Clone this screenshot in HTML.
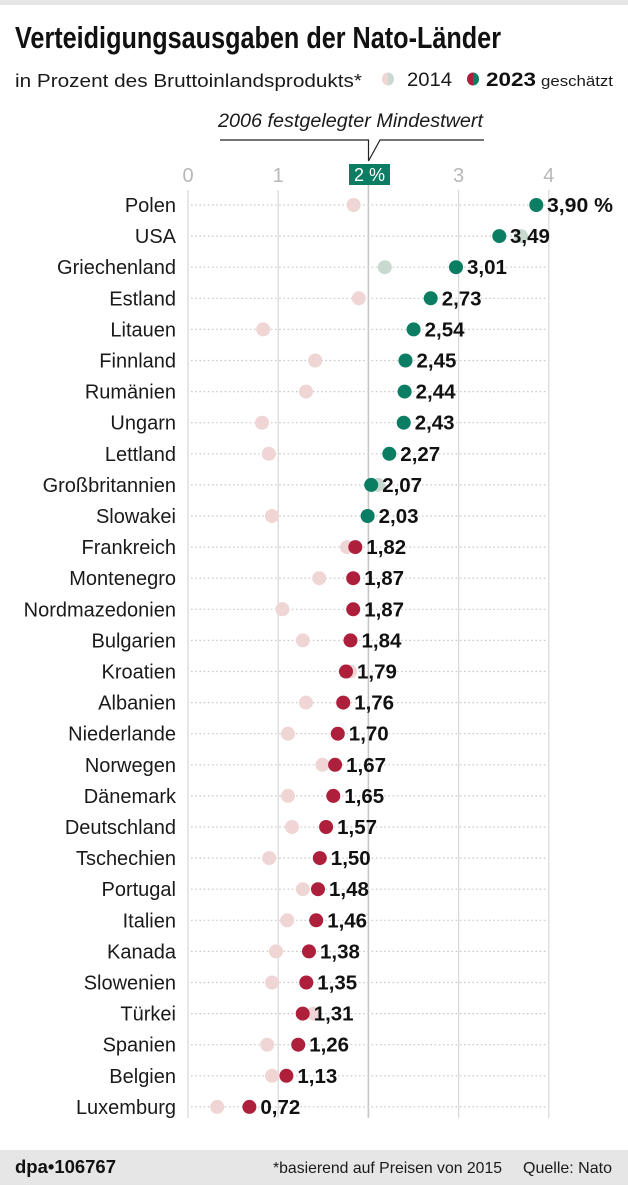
<!DOCTYPE html>
<html>
<head>
<meta charset="utf-8">
<style>
  html, body { margin: 0; padding: 0; background: #fff; }
  svg { display: block; }
  text { font-family: "Liberation Sans", "DejaVu Sans", sans-serif; }
</style>
</head>
<body>
<svg width="628" height="1186" viewBox="0 0 628 1186" xmlns="http://www.w3.org/2000/svg">
  <rect x="0" y="0" width="628" height="1186" fill="#ffffff"/>
  <!-- top bar -->
  <rect x="0" y="0" width="628" height="5" fill="#e6e6e6"/>

  <!-- title -->
  <text x="15" y="48" font-size="31" font-weight="bold" fill="#111" textLength="486" lengthAdjust="spacingAndGlyphs">Verteidigungsausgaben der Nato-Länder</text>

  <!-- subtitle + legend -->
  <text x="15" y="87" font-size="18.5" fill="#1a1a1a" textLength="347" lengthAdjust="spacingAndGlyphs">in Prozent des Bruttoinlandsprodukts*</text>
  <path d="M388,72.5 A6,6.5 0 0 0 388,85.5 Z" fill="#efd5d4"/>
  <path d="M388,72.5 A6,6.5 0 0 1 388,85.5 Z" fill="#c9d9cf"/>
  <text x="407" y="86" font-size="19" fill="#1a1a1a" textLength="45" lengthAdjust="spacingAndGlyphs">2014</text>
  <path d="M473,72.5 A6,6.5 0 0 0 473,85.5 Z" fill="#ad1f3b"/>
  <path d="M473,72.5 A6,6.5 0 0 1 473,85.5 Z" fill="#0b7d62"/>
  <text x="486" y="86" font-size="19" font-weight="bold" fill="#111" textLength="50" lengthAdjust="spacingAndGlyphs">2023</text>
  <text x="541" y="86" font-size="15" fill="#1a1a1a" textLength="72" lengthAdjust="spacingAndGlyphs">geschätzt</text>

  <!-- annotation -->
  <text x="218" y="127" font-size="19" font-style="italic" fill="#1a1a1a" textLength="265" lengthAdjust="spacingAndGlyphs">2006 festgelegter Mindestwert</text>
  <polyline points="220,140 368.5,140 368.5,161 380,140 484,140" fill="none" stroke="#222" stroke-width="1.2"/>

  <!-- gridlines -->
  <g stroke="#dadada" stroke-width="1.3">
    <line x1="188" y1="190" x2="188" y2="1118"/>
    <line x1="278.2" y1="190" x2="278.2" y2="1118"/>
    <line x1="458.6" y1="190" x2="458.6" y2="1118"/>
    <line x1="548.8" y1="190" x2="548.8" y2="1118"/>
  </g>
  <line x1="368.4" y1="184" x2="368.4" y2="1118" stroke="#c6c6c6" stroke-width="1.6"/>

  <!-- tick labels -->
  <g font-size="20" fill="#b8b8b8" text-anchor="middle">
    <text x="188" y="182">0</text>
    <text x="278.2" y="182">1</text>
    <text x="458.6" y="182">3</text>
    <text x="548.8" y="182">4</text>
  </g>
  <rect x="349" y="164" width="41" height="21" fill="#0b7d62"/>
  <text x="369.5" y="181" font-size="18" fill="#ffffff" text-anchor="middle">2 %</text>

  <!-- dotted row lines -->
  <g stroke="#c9c9c9" stroke-width="1.2" stroke-dasharray="1.6 2.6">
    <line x1="191" y1="205" x2="548" y2="205"/>
    <line x1="191" y1="236.1" x2="548" y2="236.1"/>
    <line x1="191" y1="267.2" x2="548" y2="267.2"/>
    <line x1="191" y1="298.3" x2="548" y2="298.3"/>
    <line x1="191" y1="329.4" x2="548" y2="329.4"/>
    <line x1="191" y1="360.5" x2="548" y2="360.5"/>
    <line x1="191" y1="391.6" x2="548" y2="391.6"/>
    <line x1="191" y1="422.7" x2="548" y2="422.7"/>
    <line x1="191" y1="453.8" x2="548" y2="453.8"/>
    <line x1="191" y1="484.9" x2="548" y2="484.9"/>
    <line x1="191" y1="516" x2="548" y2="516"/>
    <line x1="191" y1="547.1" x2="548" y2="547.1"/>
    <line x1="191" y1="578.2" x2="548" y2="578.2"/>
    <line x1="191" y1="609.3" x2="548" y2="609.3"/>
    <line x1="191" y1="640.4" x2="548" y2="640.4"/>
    <line x1="191" y1="671.5" x2="548" y2="671.5"/>
    <line x1="191" y1="702.6" x2="548" y2="702.6"/>
    <line x1="191" y1="733.7" x2="548" y2="733.7"/>
    <line x1="191" y1="764.8" x2="548" y2="764.8"/>
    <line x1="191" y1="795.9" x2="548" y2="795.9"/>
    <line x1="191" y1="827" x2="548" y2="827"/>
    <line x1="191" y1="858.1" x2="548" y2="858.1"/>
    <line x1="191" y1="889.2" x2="548" y2="889.2"/>
    <line x1="191" y1="920.3" x2="548" y2="920.3"/>
    <line x1="191" y1="951.4" x2="548" y2="951.4"/>
    <line x1="191" y1="982.5" x2="548" y2="982.5"/>
    <line x1="191" y1="1013.6" x2="548" y2="1013.6"/>
    <line x1="191" y1="1044.7" x2="548" y2="1044.7"/>
    <line x1="191" y1="1075.8" x2="548" y2="1075.8"/>
    <line x1="191" y1="1106.9" x2="548" y2="1106.9"/>
  </g>

  <!-- country labels -->
  <g font-size="20" fill="#1a1a1a" text-anchor="end">
    <text x="176" y="212">Polen</text>
    <text x="176" y="243.1">USA</text>
    <text x="176" y="274.2">Griechenland</text>
    <text x="176" y="305.3">Estland</text>
    <text x="176" y="336.4">Litauen</text>
    <text x="176" y="367.5">Finnland</text>
    <text x="176" y="398.6">Rumänien</text>
    <text x="176" y="429.7">Ungarn</text>
    <text x="176" y="460.8">Lettland</text>
    <text x="176" y="491.9">Großbritannien</text>
    <text x="176" y="523">Slowakei</text>
    <text x="176" y="554.1">Frankreich</text>
    <text x="176" y="585.2">Montenegro</text>
    <text x="176" y="616.3">Nordmazedonien</text>
    <text x="176" y="647.4">Bulgarien</text>
    <text x="176" y="678.5">Kroatien</text>
    <text x="176" y="709.6">Albanien</text>
    <text x="176" y="740.7">Niederlande</text>
    <text x="176" y="771.8">Norwegen</text>
    <text x="176" y="802.9">Dänemark</text>
    <text x="176" y="834">Deutschland</text>
    <text x="176" y="865.1">Tschechien</text>
    <text x="176" y="896.2">Portugal</text>
    <text x="176" y="927.3">Italien</text>
    <text x="176" y="958.4">Kanada</text>
    <text x="176" y="989.5">Slowenien</text>
    <text x="176" y="1020.6">Türkei</text>
    <text x="176" y="1051.7">Spanien</text>
    <text x="176" y="1082.8">Belgien</text>
    <text x="176" y="1113.9">Luxemburg</text>
  </g>

  <!-- 2014 dots -->
  <g>
    <circle cx="353.6" cy="205" r="7" fill="#efd5d4"/>
    <circle cx="521" cy="236.1" r="7" fill="#c9d9cf"/>
    <circle cx="384.8" cy="267.2" r="7" fill="#c9d9cf"/>
    <circle cx="358.8" cy="298.3" r="7" fill="#efd5d4"/>
    <circle cx="263.2" cy="329.4" r="7" fill="#efd5d4"/>
    <circle cx="315.2" cy="360.5" r="7" fill="#efd5d4"/>
    <circle cx="306" cy="391.6" r="7" fill="#efd5d4"/>
    <circle cx="262" cy="422.7" r="7" fill="#efd5d4"/>
    <circle cx="268.8" cy="453.8" r="7" fill="#efd5d4"/>
    <circle cx="378" cy="484.9" r="7" fill="#c9d9cf"/>
    <circle cx="272" cy="516" r="7" fill="#efd5d4"/>
    <circle cx="347" cy="547.1" r="7" fill="#efd5d4"/>
    <circle cx="319.2" cy="578.2" r="7" fill="#efd5d4"/>
    <circle cx="282.4" cy="609.3" r="7" fill="#efd5d4"/>
    <circle cx="302.8" cy="640.4" r="7" fill="#efd5d4"/>
    <circle cx="350" cy="671.5" r="7" fill="#efd5d4"/>
    <circle cx="306" cy="702.6" r="7" fill="#efd5d4"/>
    <circle cx="288" cy="733.7" r="7" fill="#efd5d4"/>
    <circle cx="322.4" cy="764.8" r="7" fill="#efd5d4"/>
    <circle cx="288" cy="795.9" r="7" fill="#efd5d4"/>
    <circle cx="292" cy="827" r="7" fill="#efd5d4"/>
    <circle cx="269.2" cy="858.1" r="7" fill="#efd5d4"/>
    <circle cx="302.8" cy="889.2" r="7" fill="#efd5d4"/>
    <circle cx="287.2" cy="920.3" r="7" fill="#efd5d4"/>
    <circle cx="276" cy="951.4" r="7" fill="#efd5d4"/>
    <circle cx="272" cy="982.5" r="7" fill="#efd5d4"/>
    <circle cx="314" cy="1013.6" r="7" fill="#efd5d4"/>
    <circle cx="267.2" cy="1044.7" r="7" fill="#efd5d4"/>
    <circle cx="272" cy="1075.8" r="7" fill="#efd5d4"/>
    <circle cx="217.2" cy="1106.9" r="7" fill="#efd5d4"/>
  </g>

  <!-- 2023 dots -->
  <g>
    <circle cx="536.3" cy="205" r="7" fill="#0b7d62"/>
    <circle cx="499.3" cy="236.1" r="7" fill="#0b7d62"/>
    <circle cx="456" cy="267.2" r="7" fill="#0b7d62"/>
    <circle cx="430.7" cy="298.3" r="7" fill="#0b7d62"/>
    <circle cx="413.6" cy="329.4" r="7" fill="#0b7d62"/>
    <circle cx="405.5" cy="360.5" r="7" fill="#0b7d62"/>
    <circle cx="404.6" cy="391.6" r="7" fill="#0b7d62"/>
    <circle cx="403.7" cy="422.7" r="7" fill="#0b7d62"/>
    <circle cx="389.3" cy="453.8" r="7" fill="#0b7d62"/>
    <circle cx="371.2" cy="484.9" r="7" fill="#0b7d62"/>
    <circle cx="367.6" cy="516" r="7" fill="#0b7d62"/>
    <circle cx="355.3" cy="547.1" r="7" fill="#ad1f3b"/>
    <circle cx="353.2" cy="578.2" r="7" fill="#ad1f3b"/>
    <circle cx="353.2" cy="609.3" r="7" fill="#ad1f3b"/>
    <circle cx="350.5" cy="640.4" r="7" fill="#ad1f3b"/>
    <circle cx="346" cy="671.5" r="7" fill="#ad1f3b"/>
    <circle cx="343.2" cy="702.6" r="7" fill="#ad1f3b"/>
    <circle cx="337.8" cy="733.7" r="7" fill="#ad1f3b"/>
    <circle cx="335.1" cy="764.8" r="7" fill="#ad1f3b"/>
    <circle cx="333.3" cy="795.9" r="7" fill="#ad1f3b"/>
    <circle cx="326.1" cy="827" r="7" fill="#ad1f3b"/>
    <circle cx="319.8" cy="858.1" r="7" fill="#ad1f3b"/>
    <circle cx="318" cy="889.2" r="7" fill="#ad1f3b"/>
    <circle cx="316.2" cy="920.3" r="7" fill="#ad1f3b"/>
    <circle cx="309" cy="951.4" r="7" fill="#ad1f3b"/>
    <circle cx="306.3" cy="982.5" r="7" fill="#ad1f3b"/>
    <circle cx="302.7" cy="1013.6" r="7" fill="#ad1f3b"/>
    <circle cx="298.2" cy="1044.7" r="7" fill="#ad1f3b"/>
    <circle cx="286.4" cy="1075.8" r="7" fill="#ad1f3b"/>
    <circle cx="249.4" cy="1106.9" r="7" fill="#ad1f3b"/>
  </g>

  <!-- value labels -->
  <g font-size="20.5" font-weight="bold" fill="#111">
    <text x="547" y="212" textLength="66" lengthAdjust="spacingAndGlyphs">3,90 %</text>
    <text x="510" y="243.1">3,49</text>
    <text x="467" y="274.2">3,01</text>
    <text x="441.7" y="305.3">2,73</text>
    <text x="424.6" y="336.4">2,54</text>
    <text x="416.5" y="367.5">2,45</text>
    <text x="415.6" y="398.6">2,44</text>
    <text x="414.7" y="429.7">2,43</text>
    <text x="400.3" y="460.8">2,27</text>
    <text x="382.2" y="491.9">2,07</text>
    <text x="378.6" y="523">2,03</text>
    <text x="366.3" y="554.1">1,82</text>
    <text x="364.2" y="585.2">1,87</text>
    <text x="364.2" y="616.3">1,87</text>
    <text x="361.5" y="647.4">1,84</text>
    <text x="357" y="678.5">1,79</text>
    <text x="354.2" y="709.6">1,76</text>
    <text x="348.8" y="740.7">1,70</text>
    <text x="346.1" y="771.8">1,67</text>
    <text x="344.3" y="802.9">1,65</text>
    <text x="337.1" y="834">1,57</text>
    <text x="330.8" y="865.1">1,50</text>
    <text x="329" y="896.2">1,48</text>
    <text x="327.2" y="927.3">1,46</text>
    <text x="320" y="958.4">1,38</text>
    <text x="317.3" y="989.5">1,35</text>
    <text x="313.7" y="1020.6">1,31</text>
    <text x="309.2" y="1051.7">1,26</text>
    <text x="297.4" y="1082.8">1,13</text>
    <text x="260.4" y="1113.9">0,72</text>
  </g>

  <!-- footer -->
  <rect x="0" y="1150" width="628" height="35" fill="#e6e6e6"/>
  <text x="15" y="1173" font-size="18" font-weight="bold" fill="#111" textLength="101" lengthAdjust="spacingAndGlyphs">dpa•106767</text>
  <text x="273" y="1173" font-size="16" fill="#1a1a1a" textLength="229" lengthAdjust="spacingAndGlyphs">*basierend auf Preisen von 2015</text>
  <text x="523" y="1173" font-size="16" fill="#1a1a1a" textLength="89" lengthAdjust="spacingAndGlyphs">Quelle: Nato</text>
</svg>
</body>
</html>
